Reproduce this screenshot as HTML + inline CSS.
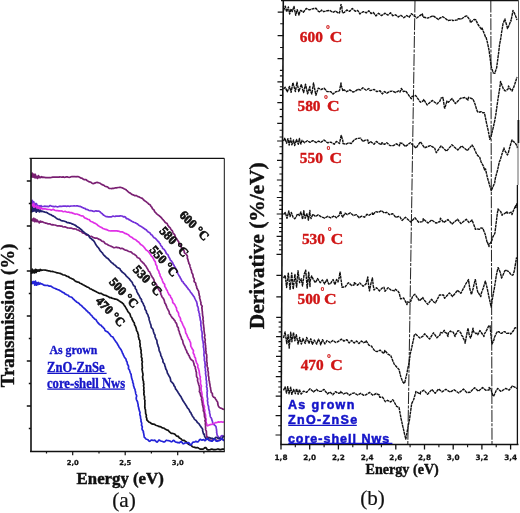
<!DOCTYPE html><html><head><meta charset="utf-8"><style>html,body{margin:0;padding:0;background:#fff;}svg{display:block;}</style></head><body>
<svg width="520" height="513" viewBox="0 0 520 513">
<rect width="520" height="513" fill="#fff"/>
<path d="M31.5 177.7L32.2 173.2L33 177.1L33.8 174.1L34.5 177.6L35.3 174.3L36 178L36.8 176.3L37.6 178.4L38.5 175.5L39.2 177.6L39.9 176.8L40.7 177.7L41.5 176.7L42.3 177.3L43.1 177.2L43.9 177.3L44.7 177.4L45.5 177.6L46.3 177.7L47.1 177.7L47.9 177.7L48.7 177.5L49.5 177.6L50.3 177.7L51.1 177.5L51.9 177.3L52.7 177.2L53.5 177.2L54.3 177.2L55.1 177.1L55.9 177.1L56.7 177.2L57.5 177.2L58.3 177.2L59.1 177.1L59.9 176.9L60.7 177L61.5 177.2L62.3 177.1L63.1 176.9L63.9 177.1L64.8 177.3L65.6 177.1L66.4 176.9L67.2 176.8L68 177.1L68.8 177.3L69.6 177.3L70.4 177.1L71.2 176.7L72 176.5L72.8 176.6L73.6 176.6L74.3 176.5L75.1 176.6L75.9 176.8L76.7 176.7L77.5 176.6L78.3 176.7L79.1 177L79.8 177.3L80.5 177.9L81.3 178.1L82.1 178.3L82.8 178.8L83.4 179.3L84.2 179.6L85.1 179.6L86 179.5L86.6 180.1L87.2 180.7L87.9 181.1L88.7 181.5L89.4 181.9L90.3 182L91 182.3L91.7 182.9L92.4 183.3L93.1 183.6L93.9 183.4L94.7 183.1L95.4 182.9L96.2 182.5L97 182.4L97.9 182.6L98.6 182.8L99.3 183L100 183.2L100.6 183.7L101.3 184.1L102 184.6L102.9 184.9L103.7 185.2L104.3 185.7L104.9 186.2L105.7 186.5L106.6 186.7L107.4 186.9L108.1 187.4L108.7 188.1L109.4 188.5L110.2 188.5L110.9 188.5L111.7 188.6L112.4 188.4L113.2 188.4L114 188.3L114.8 188L115.6 187.9L116.5 187.8L117.3 187.7L118.1 187.5L118.9 187.5L119.7 187.3L120.4 187.3L121.1 187.5L121.8 187.7L122.4 187.9L123 188.2L123.7 188.6L124.4 189L125.2 189.3L126 189.7L126.6 190.3L127.3 190.9L127.9 191.5L128.5 192.1L129.2 192.6L129.9 192.9L130.6 193.3L131.2 193.8L131.9 194.4L132.6 194.7L133.4 194.9L134.1 195.3L134.8 195.7L135.7 195.6L136.6 195.6L137.2 196.1L137.9 196.6L138.7 196.8L139.4 197.1L140.1 197.5L140.8 197.8L141.6 198.1L142.3 198.4L142.9 199L143.4 199.6L144 200.3L144.6 200.7L145.3 201.1L146 201.6L146.6 202.1L147.2 202.6L147.9 203.1L148.4 203.7L149 204.3L149.8 204.6L150.4 205.1L150.7 205.9L151.2 206.6L151.8 207.1L152.1 207.9L152.4 208.7L153 209.2L153.7 209.7L154.2 210.3L154.4 211.2L154.8 211.9L155.4 212.4L156 213L156.5 213.6L157.1 214.2L157.7 214.7L158.4 215.1L159.1 215.6L159.6 216.2L160.3 216.6L160.8 217.2L161.4 217.8L161.9 218.4L162.4 219.1L163 219.6L163.5 220.2L164 220.8L164.5 221.5L164.9 222.1L165.5 222.7L166.3 223.1L167.1 223.5L167.4 224.2L167.7 225.1L168.2 225.7L168.6 226.4L169.1 227L169.8 227.5L170.4 228.1L170.7 228.8L171.1 229.5L171.6 230.1L172.2 230.7L172.6 231.4L172.8 232.2L173.1 233L173.7 233.6L174.2 234.2L174.7 234.8L175 235.6L175.1 236.4L175.4 237.2L175.8 237.9L176.4 238.4L176.9 239.1L177.3 239.8L177.7 240.5L178.2 241.1L178.7 241.7L178.9 242.6L178.9 243.4L179.7 244L180.5 244.4L180.7 245.2L180.9 246L181.2 246.8L181.4 247.5L181.8 248.2L182.5 248.8L183 249.4L183.5 250.1L184 250.7L184.3 251.5L184.3 252.4L184.7 253.1L185.5 253.6L186.1 254.1L186.5 254.8L187 255.5L187.4 256.2L187.4 257.1L187.3 258L187.5 258.7L187.9 259.5L188.1 260.3L188.2 261.1L188.5 261.8L188.8 262.6L188.8 263.4L189.3 264.1L189.8 264.7L189.9 265.6L190 266.4L190.2 267.1L190.6 267.9L190.7 268.7L190.9 269.4L191.3 270.2L191.6 270.9L191.6 271.7L191.7 272.5L192.1 273.2L192.6 273.9L192.9 274.7L193 275.5L193.1 276.3L193.2 277.1L193.6 277.8L194 278.5L194.3 279.3L194.3 280.1L194 281L194.4 281.8L195.1 282.4L195.6 283.1L195.8 283.8L195.8 284.7L196.1 285.4L196.5 286.1L196.7 286.9L196.7 287.8L197 288.5L197.5 289.2L197.8 289.9L198.3 290.6L198.7 291.3L198.7 292.2L198.8 293L199.1 293.7L199.1 294.5L199.2 295.3L199.6 296.1L199.8 296.8L199.6 297.7L199.8 298.5L200.1 299.2L200.3 300L200.4 300.8L200.7 301.6L201 302.3L200.9 303.2L200.9 304L201.1 304.8L201.7 305.5L202.2 306.2L202 307L201.8 307.9L202 308.6L202.1 309.4L202.1 310.2L202.2 311L202.4 311.8L202.4 312.6L202.4 313.4L202.6 314.2L202.5 315L202.7 315.8L202.9 316.6L203.1 317.4L203.1 318.2L202.9 319L203 319.8L203.3 320.6L203.4 321.4L203.2 322.2L203.2 323L203.3 323.8L203.5 324.6L203.6 325.4L203.7 326.2L203.7 327L203.9 327.8L204 328.5L204 329.4L204 330.2L204.1 331L204.2 331.7L204.3 332.5L204.4 333.3L204.5 334.1L204.8 334.9L204.9 335.7L204.6 336.5L204.4 337.3L204.7 338.1L205 338.9L205.3 339.7L205.2 340.5L205 341.3L204.9 342.1L205.2 342.9L205.4 343.7L205.3 344.5L205.5 345.3L205.7 346.1L205.5 346.9L205.7 347.7L205.9 348.5L205.8 349.3L205.7 350.1L205.9 350.9L206.1 351.7L205.9 352.5L206 353.3L206.4 354L206.7 354.8L206.7 355.6L206.7 356.4L206.8 357.2L206.8 358L206.6 358.8L206.7 359.6L206.8 360.4L206.7 361.2L206.8 362L207.1 362.8L207.2 363.6L207 364.4L207 365.2L207.1 366L207.3 366.8L207.7 367.6L208 368.3L207.9 369.2L207.8 370L208 370.8L208.2 371.5L208.3 372.3L208.4 373.1L208.4 373.9L208.3 374.7L208.3 375.6L208.6 376.3L208.8 377.1L208.9 377.9L208.9 378.7L208.9 379.5L209 380.3L209.4 381.1L209.5 381.9L209.5 382.7L209.7 383.4L209.9 384.2L210 385L210 385.9L210.2 386.7L210.5 387.5L210.6 388.3L210.6 389.1L210.8 389.9L211 390.7L211.1 391.5L211.2 392.3L211.8 392.9L212.4 393.5L212.4 394.3L212.4 395.1L212.7 395.8L213.1 396.5L213.6 397.1L214.5 397.5L215.1 398L215.5 398.8L215.9 399.5L216.4 400.1L216.6 400.8L217.2 401.5L217.7 402.2L217.7 403.1L217.8 404L218 404.8L218.2 405.6L218.6 406.3L218.9 406.9L219.4 407.4L220.1 407.8L220.8 408.1L221.7 408.4L222.4 408.9L223.1 409.2L223.9 409.4L224 409.6" fill="none" stroke="#7a1f72" stroke-width="1.7" stroke-linejoin="round"/>
<path d="M31.4 203.7L32.1 200.4L32.9 204.4L33.6 201.5L34.2 205.4L34.9 203.4L35.7 206.3L36.4 203.5L37.1 206.2L37.9 205.5L38.6 207.5L39.4 205.8L40.2 206.9L40.9 205.6L41.7 206.6L42.5 206.5L43.3 206.5L44.1 206.3L44.9 206.2L45.7 206.3L46.6 206.3L47.4 206.4L48.2 206.6L49 206.4L49.8 205.7L50.6 205.7L51.4 206.1L52.2 206.3L53 206.4L53.8 206.6L54.6 206.7L55.4 206.4L56.2 206.5L57 206.8L57.8 206.8L58.6 206.6L59.4 206.3L60.2 206.2L61 206.4L61.8 206.4L62.6 206.2L63.4 206.2L64.2 206.2L65 206.2L65.8 206.2L66.6 206.3L67.4 206.2L68.2 206.1L69 206.3L69.8 206.3L70.6 206.1L71.4 206L72.2 206L73 206L73.8 205.9L74.6 205.9L75.4 206L76.2 205.9L77 205.7L77.7 205.9L78.5 206.2L79.3 206.4L80.1 206.4L80.9 206.7L81.6 207.1L82.3 207.4L83.1 207.9L83.8 208.1L84.7 208.3L85.4 208.8L86 209.3L86.9 209.4L87.7 209.7L88.4 210.1L89.1 210.5L89.9 210.7L90.7 210.7L91.5 210.7L92.3 210.9L93 211.2L93.8 211.4L94.6 211.3L95.4 210.9L96.2 210.9L97 211.2L97.8 211.1L98.5 211L99.2 211.3L99.9 211.7L100.5 212.3L101.1 212.9L101.8 213.4L102.5 214L103.1 214.7L103.8 215.2L104.6 215.6L105.2 216.1L105.8 216.5L106.5 216.6L107.2 216.7L108 216.8L108.7 216.8L109.5 216.8L110.3 216.9L111.1 216.9L111.9 216.6L112.7 216.2L113.5 216.2L114.4 216.5L115.2 216.4L116 216.1L116.9 216.1L117.7 216.2L118.5 216.2L119.3 216.1L120.1 215.9L120.8 215.9L121.6 216L122.3 216.1L123 216.6L123.7 216.9L124.7 216.7L125.5 217L125.9 217.9L126.5 218.6L127.4 218.7L128.2 219L128.9 219.6L129.6 219.9L130.3 220.3L131 220.7L131.7 221.2L132.4 221.5L133.1 221.9L133.8 222.2L134.6 222.5L135.3 222.8L136 223.2L136.7 223.6L137.5 223.9L138.1 224.5L138.6 225.1L139.3 225.5L140.1 225.9L140.7 226.3L141.5 226.6L142.1 227.1L142.7 227.6L143.4 228L144.1 228.4L144.7 229L145.4 229.4L146.1 229.7L146.7 230.3L147.2 231L147.7 231.6L148.4 232L149.2 232.4L149.8 232.8L150.3 233.5L150.7 234.2L151.4 234.7L152.1 235.1L152.5 235.8L153 236.5L153.5 237.1L154 237.7L154.8 238.1L155.5 238.5L156.1 239.1L156.6 239.7L157.1 240.3L157.6 240.9L158.2 241.5L158.8 242L159.2 242.7L159.7 243.3L160.3 243.9L160.5 244.7L160.8 245.5L161.4 246.1L162 246.6L162.4 247.3L162.5 248.2L163.1 248.8L164 249.2L164.4 249.8L164.9 250.5L165.4 251.1L165.7 251.9L166 252.6L166.3 253.4L166.9 254L167.7 254.4L168.1 255.1L168.4 255.8L168.6 256.6L169 257.4L169.5 258L169.9 258.6L170 259.5L170.4 260.2L171.2 260.7L171.7 261.3L172.1 262L172.6 262.7L172.9 263.4L173.1 264.2L173.7 264.8L174.1 265.5L174.4 266.2L174.9 266.9L175.3 267.6L175.6 268.3L176 269L176.4 269.7L176.7 270.5L177 271.2L177.3 272L177.6 272.7L177.9 273.5L178.2 274.2L178.6 274.9L179 275.6L179.4 276.3L179.9 276.9L180.2 277.7L180.5 278.4L181 279L181.4 279.7L181.6 280.5L182 281.2L182.7 281.7L183.3 282.2L183.5 283L184 283.7L184.6 284.2L185 284.9L185.6 285.5L186.2 286L186.6 286.8L187 287.4L187.6 288L188.1 288.6L188.4 289.4L189.1 289.9L189.7 290.5L190 291.2L190.4 291.9L190.9 292.6L191.5 293.2L191.9 293.9L192.4 294.5L192.9 295.2L193.3 295.9L193.9 296.5L194.3 297.1L194.6 297.9L194.9 298.6L195.3 299.2L195.6 300L195.9 300.7L196.4 301.3L196.7 302.1L196.8 302.9L197.1 303.7L197.2 304.5L197.2 305.3L197.4 306.1L197.9 306.8L198.1 307.6L198.3 308.4L198.4 309.2L198.2 310L198.6 310.8L198.9 311.5L198.9 312.4L199.2 313.1L199.6 313.9L199.4 314.7L199.4 315.5L199.8 316.3L199.9 317.1L200 317.8L200.2 318.6L200.2 319.4L200.3 320.2L200.7 321L200.9 321.8L200.9 322.6L200.9 323.4L200.8 324.2L200.8 325L200.9 325.8L201.1 326.6L201.3 327.4L201.5 328.2L201.3 329L201.3 329.8L201.6 330.6L201.9 331.3L202 332.1L202.1 332.9L202.2 333.7L202.2 334.5L202.1 335.3L202.1 336.1L202.2 336.9L202.3 337.7L202.4 338.5L202.5 339.3L202.6 340.1L202.9 340.9L203.1 341.7L203.1 342.5L203.2 343.3L203.4 344L203.5 344.8L203.4 345.7L203.3 346.5L203.4 347.3L203.7 348L203.8 348.8L203.8 349.6L203.9 350.4L204.1 351.2L204.1 352L204.1 352.8L204 353.6L203.9 354.5L203.9 355.3L204.1 356L204.3 356.8L204.5 357.6L204.4 358.4L204.4 359.2L204.3 360L204.5 360.8L204.9 361.6L205 362.4L204.9 363.2L205 364L205.2 364.8L205.2 365.6L205 366.4L205 367.2L205.2 368L205.5 368.8L205.5 369.6L205.3 370.4L205.6 371.2L205.8 371.9L205.6 372.8L205.5 373.6L205.7 374.4L205.8 375.2L206 375.9L206.1 376.7L206.2 377.5L206.2 378.3L206.1 379.1L206.2 379.9L206.5 380.7L206.6 381.5L206.5 382.3L206.4 383.1L206.6 383.9L206.9 384.7L206.8 385.5L206.5 386.3L206.6 387.1L207.1 387.9L207.1 388.7L207 389.5L207.3 390.3L207.4 391.1L207.1 391.9L207 392.7L207.2 393.5L207.2 394.3L207.1 395.1L207.1 395.9L207.2 396.7L207.3 397.5L207.6 398.3L207.7 399.1L207.5 399.9L207.4 400.7L207.6 401.5L207.8 402.3L207.7 403.1L207.8 403.9L208 404.7L208.2 405.4L208.5 406.2L208.7 407L208.6 407.8L208.7 408.6L208.9 409.4L209.1 410.2L209.4 410.9L209.6 411.7L209.5 412.6L209.6 413.4L210 414.1L210.1 414.9L210.1 415.7L210.3 416.5L210.6 417.2L211.2 417.9L211.6 418.6L211.7 419.5L211.9 420.2L212.3 420.9L212.5 421.7L212.6 422.5L212.9 423.3L213.5 423.8L213.9 424.5L214.6 425.1L215.2 425.6L215.7 426.2L216.1 426.9L216.1 427.6L216.3 428.4L216.5 429.1L216.5 430L216.7 431.3L216.7 432.3L216.6 432.6L216.7 432.7L216.9 433.4L217 434.6L217.3 435.5L218 436.3L218.4 437.1L219 437.7L219.6 438L220.3 437.4L221.1 436.2L221.9 435.6L222.9 436.1L224 436.7L224.1 436.8" fill="none" stroke="#7431d9" stroke-width="1.7" stroke-linejoin="round"/>
<path d="M31.5 207.2L32.3 204.4L33.1 206.5L33.8 203.6L34.3 207.9L35 206.1L35.9 207.7L36.6 206L37.4 208.9L38.2 206.5L38.9 208.7L39.7 207.3L40.5 209L41.3 207.8L42 208.9L42.8 208.8L43.6 208.9L44.4 208.9L45.2 208.9L46 209L46.8 209.3L47.6 209.4L48.4 209.5L49.2 209.5L50 209.5L50.8 209.9L51.6 210.1L52.4 209.6L53.3 209.4L54 209.7L54.8 210.2L55.5 210.5L56.3 210.6L57.1 210.7L57.9 210.7L58.7 210.8L59.5 210.9L60.3 211L61.1 210.9L61.9 211L62.7 211.5L63.5 211.7L64.3 211.5L65.1 211.4L65.9 211.7L66.7 212L67.5 212.2L68.3 212.2L69.1 212.2L69.8 212.6L70.6 212.7L71.5 212.6L72.2 212.9L72.9 213.3L73.7 213.4L74.4 213.8L75.2 214.1L76 214L76.8 214L77.6 214.2L78.3 214.6L79 214.8L79.8 215.1L80.4 215.5L81.2 215.8L82 215.9L82.9 216L83.5 216.4L84 217.2L84.6 217.8L85.3 218.2L86.1 218.4L86.9 218.7L87.6 219.2L88.3 219.5L89.2 219.7L89.8 220.3L90.3 221.1L91 221.5L91.8 221.7L92.6 222L93.3 222.4L93.9 222.9L94.6 223.2L95.4 223.4L96.1 223.9L96.8 224.3L97.4 225L98 225.5L98.7 225.9L99.4 226.4L100.1 226.8L100.9 227.2L101.6 227.6L102.3 228L102.9 228.5L103.7 228.7L104.4 229L105.1 229.3L105.8 229.4L106.6 229.6L107.3 229.9L108 230.3L108.7 230.6L109.5 230.8L110.3 231L111.1 230.8L111.9 230.8L112.8 230.9L113.6 230.8L114.4 230.8L115.2 230.9L116.1 230.8L116.9 230.8L117.7 231.1L118.5 231.2L119.2 231.3L120 231.7L120.7 231.9L121.5 231.8L122.3 231.9L123 232.2L123.7 232.6L124.4 233.1L125.1 233.4L125.9 233.6L126.7 233.9L127.4 234.3L128.2 234.7L128.8 235.2L129.4 235.8L130 236.4L130.6 236.8L131.4 237.1L132.1 237.5L132.7 238.1L133.2 238.6L134 239L134.7 239.3L135.5 239.6L136.2 240.1L136.7 240.7L137.3 241.3L138 241.7L138.7 242.1L139.2 242.7L139.7 243.3L140.2 244L140.8 244.5L141.5 244.9L142.2 245.4L142.8 245.9L143.4 246.5L143.9 247L144.4 247.7L145 248.3L145.4 249L145.9 249.6L146.4 250.2L147.2 250.6L147.9 251.1L148.4 251.7L148.9 252.3L149.5 252.9L149.8 253.6L150.3 254.3L150.8 254.9L151.2 255.7L151.6 256.3L152.3 256.8L152.8 257.4L153.1 258.2L153.5 258.8L153.9 259.5L154.1 260.3L154.6 260.9L155.2 261.6L155.4 262.3L155.6 263.1L155.6 264L155.9 264.7L156.5 265.4L156.9 266.1L157 266.9L157.1 267.7L157.2 268.6L157.6 269.3L158 270L158.5 270.7L158.9 271.3L159 272.2L159.1 273L159.6 273.7L160 274.4L160 275.2L160.1 276L160.7 276.7L161.1 277.4L161.4 278.1L161.8 278.8L162.1 279.5L162.3 280.3L162.6 281.1L162.9 281.8L163.1 282.6L163.6 283.3L164.3 283.8L164.7 284.5L164.7 285.4L164.7 286.2L165.1 286.9L165.6 287.6L166 288.3L166.2 289.1L166.6 289.8L167.1 290.4L167.5 291.1L167.7 292L168 292.7L168.5 293.3L168.7 294.1L169.1 294.8L169.9 295.3L170.4 295.9L170.6 296.8L170.8 297.5L171.5 298.1L171.9 298.8L172.1 299.6L172.5 300.3L172.7 301.1L172.6 302L172.9 302.8L173.6 303.3L174.2 303.9L174.7 304.6L175.2 305.2L175.4 306L175.7 306.7L176.2 307.4L176.5 308.1L176.5 309L176.7 309.8L176.9 310.5L177.3 311.3L177.8 311.9L178.3 312.6L178.6 313.3L178.6 314.2L178.7 315L179 315.8L179.4 316.5L179.8 317.1L180.2 317.9L180.5 318.6L180.6 319.4L180.5 320.3L180.9 321L181.5 321.6L181.9 322.3L182.2 323.1L182.5 323.8L182.8 324.6L183.1 325.3L183.5 326L183.8 326.7L184.1 327.5L184.6 328.2L184.9 328.9L185.2 329.7L185.3 330.4L185.5 331.2L185.6 332.1L185.7 332.9L186.1 333.6L186.6 334.3L186.9 335L187.2 335.7L187.4 336.5L187.8 337.2L188.3 337.9L188.4 338.7L188.8 339.4L189.5 340L189.7 340.8L189.9 341.5L190.4 342.2L190.6 343L190.7 343.8L190.7 344.7L190.7 345.5L190.9 346.3L191.3 347L191.7 347.7L192 348.5L192.4 349.2L193 349.8L193.4 350.5L193.4 351.4L193.2 352.3L193.3 353.1L193.6 353.8L194.1 354.5L194.4 355.2L194.4 356.1L194.6 356.9L195.1 357.5L195.5 358.2L195.6 359L195.6 359.9L195.9 360.6L196.2 361.4L196.4 362.2L196.6 362.9L197.1 363.6L197.5 364.3L197.8 365.1L197.9 365.9L197.7 366.8L197.8 367.6L198.4 368.3L198.6 369L198.7 369.8L199 370.6L199.2 371.3L199.3 372.1L199.3 373L199.5 373.7L199.6 374.5L199.7 375.3L200 376.1L200.4 376.8L200.3 377.6L200.1 378.5L200.2 379.3L200.4 380L200.6 380.8L200.6 381.6L200.5 382.5L200.5 383.3L200.5 384.1L200.9 384.8L201.3 385.6L201.4 386.4L201.1 387.2L201.1 388L201.2 388.8L201.2 389.7L201.1 390.5L201.4 391.2L201.7 392L201.8 392.8L201.9 393.6L202.1 394.4L202 395.2L201.9 396L202.2 396.8L202.5 397.6L202.7 398.3L203 399.1L203 399.9L203.1 400.7L203.2 401.5L203.3 402.3L203.3 403.1L203.4 403.9L203.7 404.7L203.9 405.4L204.3 406.2L204.5 407L204.3 407.8L204.2 408.6L204.4 409.4L204.8 410.2L204.8 411L204.7 411.8L204.7 412.6L204.9 413.4L205.2 414.1L205.5 414.9L205.6 415.9L205.6 416.9L205.7 417.9L206 418.9L206.2 419.9L206 421L205.9 422L206.2 422.9L206.6 423.6L206.8 424.3L206.9 425L207.1 425.5L207.5 425.8L208 425.6L208.6 425.2L209.4 424.9L210.3 424.6L211.2 424.4L212 424.5L212.8 424L213.4 423.5L214.2 423.3L214.9 423L215.6 422.6L216.3 422.6L217.1 422.5L217.9 422.1L218.6 421.9L219.5 422.1L220.3 422L221.1 421.7L221.9 422L222.7 422.1L223.6 422L224 422" fill="none" stroke="#e030e6" stroke-width="1.7" stroke-linejoin="round"/>
<path d="M31.5 221L32.3 219.1L33.1 221L33.9 218.2L34.7 221.7L35.5 219.1L36.3 221.6L37.1 220L37.8 221.7L38.5 221.3L39.3 222.9L40.2 221.1L41 222.1L41.8 221.5L42.6 221.9L43.3 222.2L44 222.6L44.8 222.8L45.6 223.1L46.4 223.2L47.1 223.4L47.8 223.8L48.7 223.9L49.5 223.8L50.3 224L51 224.5L51.7 224.8L52.6 224.7L53.4 224.8L54.1 225L55 225L55.7 225.2L56.5 225.6L57.2 225.8L58 225.9L58.9 225.8L59.7 225.8L60.4 226.1L61.2 226.2L62.1 226.2L62.8 226.7L63.6 227L64.4 226.9L65.2 226.9L66 227.2L66.7 227.5L67.5 227.9L68.3 228L69.1 228L69.9 228.2L70.7 228.1L71.5 228.2L72.3 228.5L73 228.8L73.8 228.8L74.6 228.9L75.4 229L76.2 229.1L76.8 229.7L77.6 230L78.4 230.1L79.1 230.5L79.7 231L80.5 231.3L81.3 231.5L82 232L82.4 232.8L83.2 233.1L84.1 233.2L84.7 233.6L85.4 234.2L86 234.7L86.7 235.1L87.5 235.3L88.3 235.5L89 235.8L89.7 236.3L90.5 236.5L91.3 236.4L92.1 236.7L92.8 237.3L93.5 237.6L94.3 237.8L95 238.1L95.8 238.1L96.7 238.2L97.5 238.3L98.1 238.8L98.8 239.3L99.6 239.4L100.3 239.8L101 240.3L101.6 240.9L102.3 241.3L103.2 241.4L103.9 241.8L104.4 242.6L104.9 243.3L105.6 243.7L106.4 244L107.1 244.3L107.8 244.7L108.5 245.2L109.2 245.5L109.9 245.8L110.6 246L111.3 246.4L112.1 246.7L112.8 247.1L113.5 247.6L114.3 247.7L115.1 247.5L116 247.2L116.8 247.3L117.6 247.7L118.4 247.7L119.2 247.8L119.9 248.3L120.7 248.6L121.6 248.4L122.4 248.4L123.1 248.8L123.8 249.2L124.5 249.7L125.3 250.1L126.1 250.2L126.9 250.4L127.6 250.8L128.3 251.2L129 251.5L129.7 251.7L130.5 251.8L131.3 252.1L131.8 252.6L132.3 253.3L133 253.7L133.8 254L134.5 254.4L135.1 255L135.8 255.4L136.4 255.9L136.8 256.7L137.2 257.4L138.1 257.8L138.9 258.1L139.6 258.6L140.1 259.2L140.4 260.1L140.9 260.8L141.5 261.3L142.1 261.9L142.6 262.5L143.2 263L143.9 263.5L144.3 264.2L144.7 264.8L145.3 265.4L145.8 266L146.2 266.6L146.6 267.3L146.9 268L147.4 268.6L147.8 269.3L148.1 270L148.4 270.8L149 271.4L149.7 271.9L150 272.6L150.4 273.3L150.7 274L151 274.8L151.3 275.5L151.7 276.2L152.1 276.9L152.5 277.6L153.1 278.2L153.5 278.9L153.8 279.7L154.1 280.4L154.3 281.3L154.5 282.1L155 282.7L155.6 283.3L156.2 284L156.4 284.7L156.8 285.5L157.2 286.2L157.5 286.9L157.8 287.7L158.1 288.5L158.5 289.2L158.9 289.9L159.4 290.5L159.9 291.2L160.3 291.9L160.6 292.6L160.7 293.5L160.9 294.3L161.3 295L161.6 295.7L161.8 296.5L162.3 297.2L162.8 297.8L163.3 298.5L163.7 299.2L164 299.9L164.3 300.7L164.5 301.5L164.6 302.3L164.9 303.1L165.4 303.7L165.8 304.5L166 305.2L166.4 306L166.7 306.7L166.9 307.5L167.2 308.2L167.6 308.9L168 309.7L168.4 310.3L168.8 311L169.1 311.8L169.3 312.6L169.3 313.4L169.7 314.1L170.4 314.6L170.7 315.4L171.1 316.1L171.5 316.7L171.9 317.4L172.4 318L173.1 318.4L173.6 319.1L174 319.8L174.6 320.4L175.1 321L175.3 321.8L175.6 322.5L176.2 323L176.6 323.7L176.8 324.5L177 325.3L177.1 326.1L177.5 326.8L178.1 327.4L178.4 328.1L178.4 329L178.4 329.9L178.8 330.6L179.2 331.3L179.4 332.1L179.5 332.9L179.7 333.7L180.1 334.4L180.4 335.2L180.6 336L181 336.7L181.3 337.5L181.4 338.3L181.7 339.1L182.2 339.7L182.6 340.4L182.8 341.2L182.9 342L183 342.8L183.3 343.6L183.6 344.4L184 345.1L184.4 345.8L184.6 346.5L185 347.3L185.3 348L185.5 348.8L185.8 349.6L186.3 350.3L186.7 351L186.8 351.8L187 352.6L187.6 353.2L188.1 353.8L188.3 354.6L188.7 355.3L189.3 355.9L189.5 356.7L189.7 357.5L190.2 358.1L190.5 358.8L191 359.5L191.7 359.9L192.4 360.5L193.1 361L193.4 361.8L193.5 362.5L193.8 363.2L193.9 364L194.1 364.8L194.3 365.6L194.8 366.3L195.3 367L195.3 367.8L195.3 368.6L195.7 369.4L195.9 370.2L195.9 371L196.1 371.7L196.5 372.5L196.4 373.3L196.4 374.1L196.5 374.9L196.5 375.8L196.6 376.6L197 377.3L197.5 378L197.7 378.8L197.6 379.6L197.5 380.4L197.7 381.2L198 382L198.2 382.8L198.4 383.5L198.6 384.3L198.9 385.1L199.2 385.8L199.4 386.6L199.4 387.4L199.6 388.2L199.6 389L199.6 389.8L199.5 390.7L199.3 391.5L199.7 392.2L200.2 393L200.3 393.8L200.5 394.5L200.7 395.3L200.8 396.1L201.3 396.8L201.7 397.6L201.6 398.4L201.4 399.3L201.6 400L201.9 400.8L202.1 401.6L202.1 402.4L202.4 403.1L202.4 404L202.4 404.8L202.7 405.5L202.9 406.3L203 407.1L203.2 407.9L203.4 408.7L203.4 409.5L203.3 410.3L203.4 411.1L203.9 411.8L204.2 412.6L204.2 413.4L204.3 414.2L204.4 415L204.4 415.8L204.5 416.6L204.7 417.4L205.1 418.1L205.4 418.9L205.2 419.8L204.9 420.6L205.2 421.4L205.5 422.2L205.5 423L205.3 423.8L205.4 424.6L205.6 425.4L205.5 426.2L205.5 427.1L205.6 427.9L205.7 428.8L205.6 429.6L205.8 430.1L206.1 430.6L206.4 431.4L206.4 432.4L206.4 433.1L206.5 434L206.6 435.3L206.7 436.7L206.9 437.2L207.3 436.9L208 437.2L208.6 438.2L208.8 439.2L209.2 439.9L209.9 440L210.6 440.1L211.4 440.4L212.3 440.4L213.2 439.8L214.1 439.1L215 439.1L215.8 439.7L216.6 440.2L217.4 440.5L218.2 440.5L219 440.4L219.8 440.2L220.6 439.7L221.4 439L222.2 438.8L223 439.4L223.8 439.9L224 439.9" fill="none" stroke="#7d2277" stroke-width="1.7" stroke-linejoin="round"/>
<path d="M31.5 212.7L32.3 207.4L33.1 211.2L33.9 208.5L34.7 210.9L35.5 208.4L36.3 212.2L37.1 209.6L37.9 211.1L38.7 209.8L39.4 211.9L40.2 210.3L41 211.5L41.8 211L42.6 211.4L43.4 211.7L44.1 211.8L44.9 212.1L45.6 212.3L46.4 212.4L47.2 212.7L47.9 213.2L48.5 213.6L49.2 214.1L49.9 214.5L50.7 214.6L51.4 215L52.1 215.5L52.8 215.9L53.6 216.1L54.2 216.6L54.9 217.1L55.6 217.5L56.2 218.1L56.8 218.6L57.5 219L58.3 219.3L59.2 219.4L59.9 219.6L60.6 220.1L61.2 220.6L62 220.8L62.9 220.9L63.7 221L64.4 221.2L65.2 221.5L66 221.8L66.7 222.3L67.4 222.7L68.3 222.7L69.1 222.8L69.8 223.1L70.6 223.2L71.4 223.5L72.1 223.9L72.8 224.2L73.6 224.4L74.2 224.8L74.9 225.1L75.6 225.5L76.2 226L76.8 226.5L77.5 226.9L78.2 227.3L78.9 227.7L79.5 228.2L80.2 228.7L80.7 229.3L81.4 229.7L82 230.3L82.4 231.1L83.1 231.4L83.8 231.9L84.3 232.6L84.9 233.1L85.6 233.5L86.3 233.9L87 234.3L87.8 234.7L88.4 235.1L88.9 235.9L89.3 236.6L89.6 237.5L90.1 238L90.9 238.4L91.5 238.9L92 239.5L92.7 240L93.4 240.5L93.9 241.1L94.3 241.7L94.7 242.4L95.1 243.1L95.5 243.9L95.8 244.6L96.3 245.3L96.8 245.9L97.2 246.6L97.8 247.2L98.4 247.7L98.9 248.4L99.3 249.1L99.6 249.8L100.1 250.5L100.6 251.1L101.2 251.7L101.7 252.3L102.3 252.8L102.8 253.5L103.1 254.2L103.6 254.8L104.2 255.4L104.7 256L105.4 256.5L105.9 257L106.4 257.7L107.1 258.1L107.8 258.5L108.4 259L109 259.6L109.4 260.3L110 260.8L110.6 261.4L111 262.2L111.6 262.7L112.4 263L113 263.5L113.5 264.2L114.1 264.7L114.9 265.1L115.5 265.6L116 266.2L116.6 266.8L117.2 267.3L117.9 267.7L118.6 268.1L119.4 268.4L120 268.9L120.4 269.8L120.7 270.5L121.4 271L121.8 271.7L122.4 272.3L123.1 272.7L123.7 273.2L124.3 273.7L125 274.2L125.5 274.8L125.9 275.5L126.4 276.2L127 276.7L127.7 277.2L128.2 277.8L128.8 278.3L129.4 278.9L129.8 279.6L130.3 280.2L130.8 280.8L131.3 281.4L131.9 282L132.3 282.6L132.6 283.4L132.9 284.1L133.3 284.8L133.6 285.6L134.3 286.1L135.1 286.5L135.2 287.4L135.2 288.3L135.7 289L136.3 289.6L136.6 290.3L136.7 291.2L137 292L137.4 292.6L137.8 293.4L138.1 294.1L138.6 294.8L139.2 295.4L139.4 296.1L139.7 296.9L140.1 297.6L140.4 298.3L141 298.9L141.5 299.5L141.5 300.5L141.6 301.3L142.2 301.9L142.6 302.6L143 303.3L143.4 304L143.6 304.8L143.9 305.5L144.3 306.2L144.7 306.9L144.9 307.7L144.9 308.6L145.1 309.4L145.6 310L146.1 310.7L146.4 311.4L146.4 312.2L146.7 313L147.2 313.7L147.6 314.4L148 315.1L148.2 315.9L148.3 316.7L148.8 317.3L149.1 318.1L149 319L149.2 319.8L149.4 320.5L149.7 321.3L149.9 322L150.1 322.8L150.4 323.6L150.7 324.3L150.9 325.1L151.1 325.9L151.1 326.7L151.3 327.5L151.9 328.1L152.5 328.8L153 329.5L153.2 330.2L153.3 331L153.5 331.8L153.8 332.6L154 333.3L154.4 334.1L154.9 334.7L155.1 335.5L155 336.4L155.2 337.1L155.6 337.9L155.8 338.6L156.2 339.3L156.7 340L156.9 340.8L157 341.6L157 342.4L157.2 343.2L157.4 344L157.8 344.7L158 345.5L158.1 346.3L158.5 347L158.8 347.7L158.9 348.5L159 349.4L159.1 350.2L159.3 350.9L159.7 351.7L160 352.4L160.4 353.1L160.6 353.9L160.7 354.7L160.8 355.5L161.2 356.2L161.7 356.9L161.9 357.7L162.1 358.4L162.5 359.2L162.9 359.9L162.9 360.7L162.9 361.6L163.2 362.3L163.7 363L164.3 363.6L164.6 364.4L164.8 365.2L164.9 366L165.2 366.7L165.5 367.4L165.6 368.3L165.8 369L166.3 369.7L166.7 370.4L167 371.2L167.2 371.9L167.3 372.8L167.6 373.5L168.1 374.1L168.5 374.9L168.7 375.6L169.3 376.3L169.7 377L170 377.7L170.3 378.4L170.5 379.2L170.6 380.1L170.7 380.9L171.2 381.6L171.8 382.2L172.4 382.8L172.9 383.4L173.4 384L173.8 384.7L173.9 385.6L174.4 386.2L175 386.8L175.2 387.6L175.4 388.4L175.7 389.1L176.3 389.7L176.7 390.4L177.2 391L177.7 391.7L178 392.4L178.5 393.1L179 393.7L179.3 394.5L179.8 395.1L180.2 395.8L180.7 396.4L181.2 397.1L181.5 397.8L181.8 398.6L182.3 399.2L182.6 399.9L182.9 400.7L183.5 401.3L183.9 402L184.3 402.7L184.8 403.3L185.2 404L185.6 404.7L186 405.4L186.5 406L186.9 406.7L187.2 407.5L187.7 408.1L188.3 408.7L188.8 409.3L189.2 410L189.5 410.7L189.8 411.5L190.2 412.2L190.9 412.7L191.2 413.5L191.4 414.3L191.9 414.9L192.2 415.6L192.6 416.4L193.1 417L193.7 417.6L194 418.3L194.4 419.1L194.9 419.6L195.6 420.1L196.2 420.7L196.7 421.3L197.1 422.1L197.6 422.7L198.2 423.2L198.9 423.7L199.4 424.3L199.7 425.1L200.2 425.8L200.7 426.4L201.1 427.1L201.6 427.7L202.1 428.3L202.5 429L202.7 429.6L202.6 430.5L203 432L203.4 433.6L203.8 434.1L204.3 434.2L204.4 435.1L204.5 436.1L204.8 436.6L205.1 437.2L205.5 437.7L205.7 438.4L206.1 439.1L206.6 439.1L207.3 439L208 438.4L208.8 437.7L209.7 437.7L210.6 438.2L211.5 438.3L212.4 438.3L213.4 438.9L214.2 439L215 438.2L215.8 437.3L216.6 437.3L217.5 438L218.3 438.5L219 438.3L219.8 438.2L220.6 438.5L221.4 438.6L222.2 438.2L223 437L223.7 436.1L223.9 435.9" fill="none" stroke="#20206e" stroke-width="1.7" stroke-linejoin="round"/>
<path d="M31.4 273.9L32.2 269.2L33.1 272.8L33.9 270.1L34.7 272.9L35.5 269.3L36.2 272.4L37 269.7L37.9 271.2L38.7 270L39.4 271L40.2 269.4L41 270.4L41.8 270.1L42.6 270.2L43.4 270L44.2 270L45 270.1L45.8 270.2L46.6 270.4L47.4 270.6L48.2 270.8L49 270.9L49.8 271L50.5 271.4L51.3 271.5L52.2 271.4L53 271.6L53.7 271.8L54.5 272L55.3 272.2L56.1 272.5L56.8 272.8L57.6 272.9L58.4 273L59.2 273.2L60 273.4L60.7 273.6L61.4 274L62.1 274.3L62.8 274.8L63.6 275L64.4 275L65.2 275.3L65.9 275.7L66.6 276.1L67.3 276.4L68.2 276.5L68.8 277L69.5 277.6L70.2 278L70.9 278.2L71.7 278.6L72.4 278.9L73.2 279.2L73.8 279.7L74.4 280.3L75 280.9L75.7 281.4L76.5 281.6L77.2 281.9L78 282.1L78.8 282.3L79.5 282.8L80.1 283.3L80.9 283.5L81.6 283.9L82.3 284.3L83 284.7L83.7 285L84.4 285.4L85.1 285.9L85.8 286.2L86.5 286.6L87.2 287.1L88 287.3L88.7 287.5L89.3 288.1L89.9 288.7L90.6 289L91.5 289.2L92.1 289.6L92.8 290.1L93.6 290.4L94.3 290.7L94.9 291.2L95.7 291.4L96.4 291.8L97.1 292.2L97.8 292.5L98.5 292.9L99.2 293.3L100.1 293.4L100.9 293.4L101.7 293.6L102.3 294.1L103 294.6L103.8 294.9L104.5 295.1L105.3 295.3L106.1 295.6L106.8 295.9L107.5 296.3L108.3 296.6L108.9 297L109.6 297.6L110.5 297.6L111.3 297.7L112 298.2L112.8 298.4L113.6 298.5L114.4 298.9L115.2 299.1L116 299.2L116.8 299.4L117.5 299.7L118.2 300.2L118.8 300.7L119.5 301L120 301.5L120.6 301.9L121.3 302.2L122 302.7L122.5 303.2L123.2 303.7L123.7 304.3L124.1 305.1L124.5 305.8L125.1 306.4L125.5 307.2L125.9 307.9L126.3 308.6L126.7 309.3L127.2 310L127.5 310.7L127.8 311.5L128.4 312.1L128.9 312.7L129.4 313.3L129.9 313.9L130.2 314.7L130.4 315.5L130.6 316.3L131 317L131.6 317.6L132 318.3L132 319.2L132.4 319.9L132.9 320.5L133.1 321.3L133.6 322L134.2 322.6L134.4 323.4L134.4 324.2L134.6 325L135.1 325.7L135.5 326.4L135.7 327.2L136 327.9L136.3 328.7L136.4 329.5L136.5 330.3L136.8 331L137.4 331.7L137.7 332.5L137.8 333.3L138.1 334L138.4 334.8L138.5 335.6L138.3 336.4L138.5 337.2L138.9 337.9L138.9 338.7L139.1 339.5L139.7 340.2L139.9 341L139.8 341.8L139.8 342.6L140 343.4L140.2 344.2L140.2 345L139.9 345.9L140.1 346.7L140.6 347.4L140.7 348.2L140.6 349L141 349.8L141.2 350.5L141.1 351.3L141 352.2L141 353L141.3 353.7L141.5 354.5L141.5 355.3L141.3 356.1L141.3 356.9L141.6 357.7L142.1 358.5L142 359.3L141.7 360.1L142.1 360.9L142.4 361.7L142.3 362.5L142 363.3L142 364.1L142.2 364.9L142.2 365.7L142.2 366.5L142.4 367.3L142.4 368.1L142 368.9L142 369.7L142.3 370.5L142.4 371.3L142.5 372.1L142.7 372.9L142.9 373.7L143 374.5L143 375.3L142.7 376.1L142.5 376.9L142.7 377.7L142.8 378.5L142.8 379.3L143 380.1L143.3 380.9L143.6 381.6L143.5 382.5L143.5 383.3L143.9 384L143.8 384.8L143.5 385.7L143.7 386.5L143.9 387.2L143.9 388L143.8 388.8L143.7 389.7L143.8 390.5L144 391.2L144.1 392L144 392.8L143.8 393.7L143.9 394.5L144.1 395.2L144.4 396L144.6 396.8L144.6 397.6L144.4 398.4L144.5 399.2L144.8 400L145 400.8L144.8 401.6L144.8 402.4L144.9 403.2L144.9 404L144.9 404.8L144.8 405.6L144.8 406.4L144.8 407.2L144.9 408L145.1 408.8L145.4 409.6L145.5 410.4L145.5 411.3L145.6 412.1L145.6 413L145.7 413.8L146.2 414.6L146.4 415.4L146.2 416.3L146.2 417.1L146.6 417.8L146.8 418.5L146.7 419.3L146.9 420L147.5 420.5L148 421.1L148.6 421.7L149.3 422.2L150.1 422.5L150.7 423L151.3 423.5L152 423.9L152.8 424.1L153.6 424.2L154.4 424.3L155.1 424.8L155.8 425.2L156.6 425.5L157.3 425.7L158.1 426L158.8 426.4L159.6 426.6L160.4 426.7L161.1 427L161.8 427.5L162.5 427.9L163.4 428L164.1 428.3L164.8 428.8L165.5 429.2L166.1 429.6L166.8 430L167.6 430.1L168.3 430.4L168.8 431.1L169.5 431.8L170.2 432.4L170.7 432.9L171.4 433.3L172.2 433.4L173.1 433.5L173.8 433.7L174.5 434L175.2 434.5L175.8 435.2L176.5 436L177.2 436.3L178 436.2L178.6 436.7L179 437.6L179.6 438.1L180.4 438.3L181 438.8L181.6 439.6L182.4 440.2L183.2 440.4L183.9 440.4L184.6 440.6L185.2 441.1L185.9 441.6L186.5 442.2L187.1 442.8L187.7 443.4L188.4 444.1L189.2 444.4L189.7 444.7L190.3 445L191 445.3L191.7 445.9L192.3 446.6L193.1 447L193.9 447.2L194.8 447.4L195.5 447.7L196.3 447.8L197 447.6L197.8 447.7L198.5 448.1L199.3 448.6L200.1 449.1L200.9 449.2L201.7 449.1L202.4 449.1L203.1 449.1L203.8 448.6L204.6 447.9L205.3 447.6L206 447.7L206.5 448.3L206.9 449.1L207.4 449.7L208.1 449.9L208.7 449.8L209.4 449.8L210.2 449.6L211 449.3L211.8 449.1L212.6 449.3L213.5 449.6L214.4 449.6L215.2 449.6L216 449.5L216.8 449.3L217.6 449L218.4 449L219.2 449.4L220 449.6L220.8 449.6L221.6 449.3L222.4 449.1L223.2 449.1L224 449.1" fill="none" stroke="#111111" stroke-width="1.7" stroke-linejoin="round"/>
<path d="M31.5 284.5L32.3 281.7L33.2 283.2L33.9 281.5L34.7 285.1L35.5 281.2L36.3 285.2L37.1 282.5L37.9 284.6L38.7 282.5L39.5 284.2L40.3 283.2L41.1 283.9L41.9 283.9L42.6 284.3L43.3 284.8L44 285.2L44.8 285.3L45.6 285.4L46.4 285.5L47.3 285.4L48 285.5L48.7 285.9L49.5 286.1L50.4 286L51.1 286.3L51.8 286.8L52.5 287.2L53.1 287.7L53.9 288L54.6 288.2L55.4 288.6L56.1 288.9L56.8 289.2L57.6 289.6L58.4 289.8L59.1 290.1L59.8 290.5L60.5 291L61.2 291.3L61.9 291.8L62.5 292.3L63.3 292.6L64.1 292.9L64.6 293.5L65.3 294.1L66 294.3L66.7 294.7L67.5 295L68.2 295.3L68.7 296L69.3 296.5L70.1 296.8L70.9 297L71.6 297.3L72.3 297.7L72.8 298.4L73.3 299.1L74 299.5L74.5 300.1L75.1 300.7L75.8 301.1L76.3 301.7L77 302.2L77.7 302.5L78.4 303L79.1 303.4L79.6 304.1L80.1 304.7L80.8 305.1L81.5 305.6L82 306.2L82.6 306.8L83.2 307.3L83.8 307.9L84.3 308.5L85 308.9L85.6 309.5L86 310.2L86.6 310.8L87.3 311.1L87.9 311.8L88.3 312.5L89 312.8L89.7 313.3L90.1 314L90.6 314.6L91.2 315.2L91.8 315.7L92.3 316.3L92.7 317.1L93.3 317.6L93.9 318.1L94.4 318.7L95.1 319.2L95.8 319.6L96.3 320.3L96.7 321L97.1 321.7L97.6 322.3L98.1 323L98.7 323.5L99.2 324.2L99.7 324.7L100.6 325L101.3 325.5L101.7 326.2L102.4 326.7L103 327.1L103.4 327.8L104 328.4L104.6 329L104.8 329.8L105.2 330.7L105.9 331.1L106.6 331.4L107.3 331.8L108 332.3L108.5 332.9L109.1 333.5L109.6 334.1L110.1 334.7L110.5 335.4L111 336.1L111.7 336.5L112.6 336.8L113.2 337.4L113.5 338.2L113.9 338.8L114.4 339.5L114.8 340.2L115.3 340.8L115.7 341.5L116.2 342.2L116.7 342.7L117.2 343.4L117.5 344.1L117.8 344.8L118.3 345.5L118.7 346.2L119 346.9L119.5 347.6L120 348.2L120.4 348.9L120.9 349.5L121.3 350.2L121.6 351L122 351.7L122.3 352.5L122.5 353.3L123 353.9L123.3 354.6L123.5 355.4L124 356.1L124.3 356.8L124.7 357.5L125.2 358.1L125.8 358.8L126.1 359.5L126.2 360.3L126.5 361.1L127 361.7L127.2 362.5L127.3 363.3L127.4 364.1L127.8 364.9L128.3 365.5L128.5 366.3L128.6 367.1L128.4 368L128.5 368.8L129.1 369.5L129.6 370.2L129.8 371L130 371.7L130.2 372.5L130.5 373.2L130.9 374L131.2 374.7L131.2 375.5L131.3 376.3L131.5 377.1L131.6 377.9L131.9 378.7L132.1 379.4L132.3 380.2L132.7 380.9L132.7 381.8L132.7 382.6L133.2 383.3L133.5 384L133.4 384.9L133.5 385.7L133.8 386.4L134.1 387.2L134.2 388L134.6 388.7L135 389.4L135.1 390.2L135.3 391L135.5 391.8L135.6 392.6L135.7 393.4L135.9 394.1L136.3 394.9L136.6 395.6L136.6 396.5L136.3 397.3L136.2 398.2L136.3 399L136.5 399.7L136.8 400.5L137.2 401.2L137.6 402L137.7 402.8L137.8 403.5L138.1 404.3L138.2 405.1L138.1 405.9L138.4 406.7L138.7 407.5L138.7 408.3L138.9 409.1L139.2 409.8L139.3 410.6L139.6 411.4L140 412.1L140 412.9L139.8 413.8L139.8 414.6L140.1 415.3L140.4 416.1L140.5 416.9L140.5 417.7L140.6 418.5L140.9 419.3L141.1 420L140.9 420.9L141.1 421.7L141.4 422.4L141.7 423.2L141.7 424L141.5 424.9L141.6 425.6L142.2 426.3L142.3 427.1L142.1 428L142 428.9L142.3 429.7L142.8 430.5L143.3 431.3L143.5 432L143.3 432.4L143.4 432.6L143.7 433.6L144 435.3L144.2 436.7L144.3 437.3L144.7 437.5L145.1 437.9L145.6 438.6L146.1 439L146.7 439.3L147.4 439.5L148.2 440L148.9 441L149.7 441.3L150.6 440.6L151.4 440L152.3 440.2L153.1 440.5L153.9 440.3L154.7 440.2L155.5 440.8L156.3 441.8L157.1 442.1L157.9 441.3L158.7 440.2L159.5 440.1L160.3 440.7L161.1 441.1L161.9 441.3L162.7 441.5L163.5 441.9L164.3 442L165.1 441.5L165.9 440.5L166.7 440.2L167.5 440.5L168.2 440.7L169 440.7L169.9 441L170.7 441.5L171.4 441.8L172.2 441.4L173 440.6L173.8 440.4L174.6 441.2L175.4 442L176.2 442.2L177 442.3L177.7 442.6L178.5 442.7L179.3 442.8L180.1 442.2L180.9 441.6L181.7 442L182.6 443.1L183.3 443.8L184.2 443.5L185 442.9L185.8 443L186.5 443L187.3 442.8L188.1 442.6L188.9 442.9L189.7 443.9L190.5 444.9L191.3 444.7L192.1 443.4L192.7 442.3L193.5 442.1L194.3 442.1L195.1 441.7L195.8 441.3L196.5 441.6L197.2 442L198.1 441.8L198.9 440.8L199.6 439.7L200.4 439.3L201.2 439.9L202.1 440.1L202.8 439.8L203.6 439.6L204.4 440.4L205.1 440.7L205.9 439.9L206.8 438.9L207.6 438.9L208.3 439.7L209.1 440.4L209.9 440.7L210.7 440.8L211.5 441.1L212.3 441.1L213.1 440.2L213.9 439.3L214.7 439.4L215.5 440.3L216.3 441.1L217.1 441.3L217.9 440.9L218.7 440.6L219.5 440.5L220.3 439.9L221 438.9L221.8 438.6L222.7 439.6L223.5 440.3L224 440.2" fill="none" stroke="#2424d8" stroke-width="1.7" stroke-linejoin="round"/>
<g stroke="#111" fill="none">
<path d="M31 158.3V451.5" stroke-width="1.6"/>
<path d="M29.5 158.3H224.3" stroke-width="1.3"/>
<path d="M224.3 158.3V451.5" stroke-width="1"/>
<path d="M30 451.5H224.8" stroke-width="1.6"/>
<path d="M26.8 181H31M28.8 203.5H31M26.8 226H31M28.8 248.5H31M26.8 271H31M28.8 293.5H31M26.8 316H31M28.8 338.5H31M26.8 361H31M28.8 383.5H31M26.8 406H31M28.8 428.5H31" stroke-width="1.3"/>
<path d="M46.5 451.5V453.5M72.7 451.5V455.3M99 451.5V453.5M125.2 451.5V455.3M151.4 451.5V453.5M177.7 451.5V455.3M203.9 451.5V453.5" stroke-width="1.2"/>
</g>
<g font-family="DejaVu Sans, sans-serif" font-weight="bold" font-size="6.8" fill="#111" stroke="#111" stroke-width="0.25" text-anchor="middle">
<text x="72.7" y="465.4">2,0</text>
<text x="125.2" y="465.4">2,5</text>
<text x="177.7" y="465.4">3,0</text>
</g>
<g font-family="Liberation Serif, serif" fill="#111">
<text x="76.6" y="483.9" font-weight="bold" font-size="16.6" stroke="#111" stroke-width="0.45" textLength="87.2" lengthAdjust="spacingAndGlyphs">Energy (eV)</text>
<text x="112.2" y="507" font-size="21" stroke="#111" stroke-width="0.2" textLength="23.6" lengthAdjust="spacingAndGlyphs">(a)</text>
<text transform="translate(13.5 387.3) rotate(-90)" font-weight="bold" font-size="18.6" stroke="#111" stroke-width="0.4" textLength="143.7" lengthAdjust="spacingAndGlyphs">Transmission (%)</text>
</g>
<g font-family="Liberation Serif, serif" font-weight="bold" font-size="12.6" fill="#111" stroke="#111" stroke-width="0.65" text-anchor="middle">
<text transform="translate(194.4 225.7) rotate(45)" dy="0.33em">600 °C</text>
<text transform="translate(174.2 241.8) rotate(47)" dy="0.33em">580 °C</text>
<text transform="translate(164 261.2) rotate(49)" dy="0.33em">550 °C</text>
<text transform="translate(147.7 280.5) rotate(47)" dy="0.33em">530 °C</text>
<text transform="translate(123.9 292.8) rotate(47)" dy="0.33em">500 °C</text>
<text transform="translate(110.5 311.6) rotate(46)" dy="0.33em">470 °C</text>
</g>
<g font-family="Liberation Serif, serif" font-weight="bold" font-size="13.2" fill="#1515c8" stroke="#1515c8" stroke-width="0.35">
<text x="49.5" y="353.6" textLength="47.8" lengthAdjust="spacingAndGlyphs">As grown</text>
<text x="47" y="372.1" font-size="13.8" textLength="57.7" lengthAdjust="spacingAndGlyphs">ZnO-ZnSe</text>
<text x="47" y="387.7" font-size="13.8" textLength="78.2" lengthAdjust="spacingAndGlyphs">core-shell Nws</text>
</g>
<path d="M47.3 373.4H106.6M47.3 389.1H124.8" stroke="#1515c8" stroke-width="1.3"/>
<g stroke="#2a2a2a" stroke-width="1.05" stroke-dasharray="12 1.4 3 1.4" fill="none">
<path d="M415 0.5L407.8 444"/>
<path d="M490.8 0.5L492 444"/>
</g>
<path d="M283.5 10.5L285.3 6.1L286.6 11.9L288.4 7L289.6 14L291.1 9L292.3 11.6L294 6.5L295.7 15.2L297.2 9.6L299 15.1L300 11L300.8 10.4L303.3 12.2L306.3 8.5L309.4 9.9L312.7 8.8L316.1 8.3L318.4 11.4L320 12L321.5 10.1L323.8 11.7L327.2 10.7L329.6 10.4L332.9 12.4L335.4 11.1L338.9 13.3L339.5 13L341 4.5L341.7 5.9L342.5 13L344.3 12.4L346.8 10L349.7 11.3L352.3 8.5L355.3 11.3L357.6 10.4L360 14L360.1 13.6L363.4 11.6L366.3 12.9L368.8 10.7L371.1 13.5L373.4 12.5L375.9 15.9L378.5 13.3L381.5 15.6L384 14L384.8 13.2L388 15.1L390.5 12.8L392.8 15.7L395.6 14.8L398.3 17L400 15.5L401.2 15.5L403.8 17.7L406.8 15.5L409.1 17.3L411.5 13.7L416.7 18L422.4 13.9L423 17L427.7 18.1L433.1 15.7L438.4 19.5L440 18L442.9 16.7L448.1 20.5L452 20L452.8 20.6L457.3 19.9L458 18.7L461.4 19L465 16.5L466.8 15.9L470 20L470.4 22.6L474 19.5L475.8 19.8L478 24.5L481.3 29.2L482 28L483.2 31L485.5 36.9L486 37L487.4 42.4L489 50L489.4 52.9L491 65L491.4 67.5L493 72L493.1 72.8L494.9 73.4L495 72.5L496.7 67.6L497 65L498.7 52.3L499.5 45L500.9 37.6L501.5 33L503 24L503 23.6L505 19L505.1 19.9L507 26.4L507.5 28.5L509 25.5L510.9 20.2L511 21L512.5 13.2L513 10.5L514.3 12.8L516.5 18.3L517 20" fill="none" stroke="#111" stroke-width="1.4" stroke-dasharray="3 0.6" stroke-linejoin="round"/>
<path d="M283.5 89L285.2 87.3L287.3 91.8L289.5 86.5L291.1 92.3L292.9 82.8L295.4 91.6L297 82.3L298.8 91.5L301.3 84.6L303.6 92.5L305.5 84.1L307.6 93.9L309.9 86.4L310 90L311.8 94L313.5 83L315.9 95.2L318.2 88.1L321 89.5L324.2 88.2L327.1 91.6L330.6 91.6L333 94.1L335.8 91.7L338.6 91.2L339.5 90.5L341 83L341.2 85.4L343 91L344.1 89.7L346.6 91.7L349.8 89.9L353.1 92.1L355.4 91.1L358.1 89.2L360.6 90.1L362.8 87.8L366.2 90.2L368.9 88.5L370 90.5L371.2 90.4L374.2 89.4L376.6 91.6L380 90.8L382.4 93.9L384.5 91.5L386.9 93.2L389.5 91.5L392.3 91.1L395.6 92.5L398.7 90.9L400 92L401.3 88.5L403.4 91.5L405.7 91L411.2 98.7L412 96.5L415.5 95.4L420.4 102.2L423 101L423.8 99.5L427.1 105L432.3 100.4L436.9 103.9L440 101L440.9 98.2L443 97.5L444.5 108L444.9 108L447 101L448.4 102.2L452.1 98.6L455.4 103.6L460.6 98.3L464.9 97.5L468 100L468.5 97.3L472.7 99L473.4 100.1L475.1 104.3L476.6 109.5L477.4 111.6L478.7 112.3L481.1 111.7L482.7 112.7L484.3 112.7L485 115.5L486.7 124.1L488.3 131L489.8 139.3L490 139.3L491.6 134.4L493.8 125L494.7 120.8L495.8 114.6L498.1 98.2L499.9 87.1L500.5 81.5L501.7 84.5L503.4 88.9L505 90.8L505.9 90.9L508.3 88.8L508.5 86L510.2 88.9L512.1 90.9L513 88.5L513.9 86.9L516.2 79.7L517 77" fill="none" stroke="#111" stroke-width="1.4" stroke-dasharray="3 0.6" stroke-linejoin="round"/>
<path d="M283.5 141L284.8 138.3L286.6 143.2L287.9 138.6L289.2 145L290.6 138.1L291.9 144.9L293.5 140L294.7 145.5L296.5 139.5L298.3 144.3L299.4 138.4L300 141.5L300.9 144L302.1 140.3L304.6 142.7L307.3 140.7L310 142.4L312.8 140.6L316.2 142.6L318.6 141.1L321 142.3L324 140L327.5 142.7L330.8 142.1L334.2 144.2L336.4 141.4L339.5 143.5L339.8 141.8L341.2 135.4L342.8 140.5L343 143.5L346.1 144.2L348.8 142.7L351.2 143.5L354.4 139.7L357.4 138.4L360.6 138.1L363 141.6L365.3 140.2L367.8 140L368.5 143.3L370.6 141.6L374 144.2L376.3 141.4L379.2 143.6L381.6 144.6L381.9 142.7L384.5 144.4L386.8 142.7L390 145.6L393.4 145.6L396.5 143.8L399.4 145.8L400 143L402.5 143.5L405.4 146.5L410.3 142.7L416.1 148L420.4 141.8L424.5 147.8L430.4 145.6L434.6 148L436.3 152.7L441 145.9L446.5 151.2L451.9 144.8L457.8 150L461.6 145.9L467.3 150.6L472.1 145L474 148L476.8 154.4L479 156.9L479.7 157.3L481.1 162L483 165.3L484.8 170.3L485.5 168.9L487.3 177.1L489.6 185.2L491.2 190.3L491.2 190.8L493.1 186.5L494.7 182.7L495.3 178.4L497.7 169.5L499.3 162L500.2 160.1L501.9 154.3L504 148L504.3 149.8L506.5 153.4L507.4 155L508.1 153.7L509.8 147.1L511.5 141.5L512 140L513.1 141.2L515.2 142.9L517.1 146.1L517.5 148" fill="none" stroke="#111" stroke-width="1.4" stroke-dasharray="3 0.6" stroke-linejoin="round"/>
<path d="M283.5 214.5L285.3 212.5L287 218.3L288.8 210.9L290.1 216.5L291.3 212.5L293.1 217.2L294.7 218.7L295.8 217.5L297.6 213.7L299.5 215.6L300.8 211.9L302.6 219.3L303.8 210.8L305.2 218.3L306.9 213.7L308.4 220.1L309.9 210.5L310 215L311.1 218.5L312.8 214.1L315.6 216.5L318.1 214.8L321.3 216.8L324.7 218.2L327.6 216.3L330.7 217.9L334.2 215.9L336.4 217.8L339 215.5L339.3 215.1L340.5 211L342 216L342.8 217.1L345 213.2L347.4 214.6L350.3 212.9L353.4 215.5L356.3 214.7L359.2 217.7L361.3 216.2L364.5 217.2L367 214.3L369.2 215.3L372.4 213L372.7 214.9L375.7 211.6L378.4 212.3L381.5 210.6L384.3 213L386.6 212.3L389.5 214.7L392.7 213.7L395.8 217.4L398.7 216.4L400 217L402.1 220.4L405.5 217.2L410.7 222L414.9 217.8L418.7 222.2L423 221.6L423.2 218.8L428 223.1L431.6 219.9L436.1 223.1L440 221.5L440.4 218.3L443.7 222.5L447.9 219.6L452.1 224L457.5 219.2L460.9 223.6L466.3 219.3L469 222.5L471.6 220.6L472 220L473.7 224.4L475 227.8L475.4 229.3L477.7 229L479.3 229.4L481.1 227.9L483 228.5L483.3 229.6L485.2 234.2L487 241.8L487.2 241.5L489 246.5L489 244.4L490.5 242.9L492 240.2L492.4 237.7L494.7 233.6L495 232.4L497.1 215.2L498 209L498.6 209.7L500.7 211.6L502 215.3L502.5 214.4L504.4 213.7L506.9 211.7L507 213L509.2 213.1L511.3 212.2L512 214.5L513.3 210.9L515.7 205.5L516 207.5L517.2 202.8" fill="none" stroke="#111" stroke-width="1.4" stroke-dasharray="3 0.6" stroke-linejoin="round"/>
<path d="M283.5 278L285.2 275.4L286.6 287.5L288.3 273.1L290.1 289.4L291.7 273L293.2 289.3L294.9 274.4L296.6 287.1L298 270.8L299.6 282.6L301.3 278.8L302.5 286L304.1 274.6L305.7 270.1L307.2 288.1L308.7 272.1L310 286.5L310 281.6L311.6 276L313.4 279.6L315.4 282.7L317.6 278.6L320.2 282.7L322.5 280L324.6 283.9L327 279.4L328.6 284L330.5 283.7L333.1 279.5L334.9 284.7L336.6 279.4L338 282L339.2 277.5L340 272.3L341.7 284.3L342 287.3L345.2 286.8L348.4 282.7L351.7 285.5L354 285L354.3 282.6L357.5 285.2L359.8 282.9L363.1 286.3L366 284L366.2 283.3L367.8 277L368.6 285.6L369.5 290.8L370.9 283.6L372.4 278L373.3 285.9L374 290L376.5 287.8L379.5 290.9L382 288.1L384 287.3L385 291.3L388.1 287.7L391.2 290.3L394.7 290.8L395.4 289.2L397.9 291.2L399.2 293L400.6 298.9L403.7 298L407 304.6L407.2 302L410.3 302.5L412.7 296L414.9 294.3L419.5 300.8L422.9 297.5L423 298.5L427.8 304.4L431.5 299.3L433.8 302L435.4 303L439.6 294.9L443.5 295L444.6 298.3L449.4 292.9L452.6 296.5L457 291L457.4 290.1L460.8 293.3L464.6 286.3L465.4 284.5L468.5 279.6L469.8 288.8L471.3 294L471.4 294.5L473 289L475.2 279.6L475.4 279.8L476.9 288.1L478 293L478.6 293.2L480.8 296.6L481 294.1L483.2 288.3L485.3 281.1L485.5 281.6L487.3 288.7L489.3 298.7L491.2 307L491.3 305.9L492.9 295.8L494.6 286.8L496.4 275L498 267.7L498.4 267.9L500.3 272.6L501.6 278L502.5 276.2L504.8 270.9L506.2 270L507.1 270.8L509.1 271.7L510.9 274.7L512.5 275.2L513.2 274.6L514.3 271L516.6 257.3" fill="none" stroke="#111" stroke-width="1.4" stroke-dasharray="3 0.6" stroke-linejoin="round"/>
<path d="M283.5 338L285.1 331.9L286.8 343.6L288.1 334.7L289.2 348.1L290.7 332.2L291.9 341.7L293.5 332.5L294.9 340.9L296.3 334.7L298.1 344L299.7 337.5L300 339.6L301.4 344.1L302.9 338.5L305.2 343.4L306.7 337.4L309 343.3L310.8 338.8L312.4 344.3L314.3 340.1L316.7 344.1L318.4 339.2L320 342L320.7 344.8L322.5 339.7L324.9 343.9L327 340.6L330.2 342.7L332.8 340.4L335.8 342.5L338.2 341.5L341.4 339.1L343.9 341.1L346.9 339.6L349.1 342.9L351.6 340.5L354.2 343.1L356.5 340.9L359 343.6L361.4 341L363.5 342.7L365.5 342L366.1 340.8L368.9 345.1L371.6 346.2L372.4 347.7L374.9 351L377.1 351.6L380.1 350.1L382.7 352.6L384 353.5L384.8 350.4L388 354.2L390.7 355.6L392.7 360.5L394.2 364.1L397.4 367.9L399 369.4L400.7 376.4L402.7 381.7L404 383.4L404.6 383.3L406.9 373.4L407.9 368L408.9 364L410.4 353L411.2 350.1L413.6 338.9L414.2 335.2L415.5 334.1L419.9 338L423 336.2L424.6 333.8L429.6 339.1L433.5 332.8L436.9 337.8L440 334.9L440.4 332.5L442.5 332.9L444.2 330.3L445 332.4L446.6 333.2L448 336.5L448.3 333.1L450.5 331L451 331.6L453.2 332.1L455 336.5L455.3 335L457.2 332.1L458 330.7L459.3 331.2L461 333.2L461.2 334.7L463 337L463.1 337.9L465 341.5L465.1 343.2L467 333.1L468 328.2L469.2 334.8L470.5 338L471.2 336.6L473 328.2L473.5 331.6L476.1 333.7L477 333.2L477.8 334.7L479.9 330.6L480 330.7L482.3 334L484 336.5L484.4 334L486.8 329.9L488 327.4L488.7 326L490 325.8L491.4 339L492 344L494 339.8L494.1 338.1L496.7 332.5L497 331.6L499 331.7L500 333.2L501.5 333.4L503.9 331.7L505 331.6L506.5 333.4L508.7 333.2L510 333.2L510.7 334L513 331.3L515.1 327.7L517 328L517.5 328.2" fill="none" stroke="#111" stroke-width="1.4" stroke-dasharray="3 0.6" stroke-linejoin="round"/>
<path d="M283.5 390.4L285.1 386.9L286.5 393L287.7 386.6L289.1 393.9L290.7 387.1L291.8 394.4L293.6 389.4L295.4 393.7L296.5 388.6L298.2 394.2L299.5 389.3L300 391.6L301.2 394.1L303.5 391.1L306.5 392.4L310 388.8L313.5 391.9L316.5 389.4L318.8 391.4L321.5 391.2L324 389.4L327.4 393.9L329.9 392L332.8 394.7L335.5 391.7L337.8 393.2L340 393L340.4 391.5L343.6 394L346.3 392.5L349.3 395.2L352.2 393.4L354.4 393L357.6 395L360.6 393.3L363.8 395.3L366.1 394.7L369.6 392.4L372.9 395.2L376.3 393.5L379.3 395L379.7 397.2L382.7 397.3L385.3 401.7L387.5 400.3L390.6 402L392.7 399.8L393.6 400.8L396.6 406.4L398.7 407.2L399 407.4L401.1 418.7L402.8 426.4L403 427L404.6 434.4L405.8 439.1L407.1 432L409.1 421.4L409.3 421L411.3 406.3L411.7 403.6L413.6 399.7L415.5 393.5L415.9 391.5L420.2 394.1L420.5 392.2L423.9 390.2L427.6 394.3L431.9 389.4L435.2 393.3L438.6 389L442 391.9L445.9 389.3L450.1 392.1L454.1 389.8L458.7 393L463.6 389.1L466.8 392.6L470.1 392.2L474.6 387.7L478.3 391.2L482.6 387.6L485.8 390.3L489 390L489.1 387.5L491 389.3L493 396L493.8 396L496 391L497.7 388.4L500.9 391.4L505.8 388.4L509.2 390.1L512.4 385.9L516.5 388.2L517 388" fill="none" stroke="#111" stroke-width="1.4" stroke-dasharray="3 0.6" stroke-linejoin="round"/>
<g stroke="#111" fill="none">
<path d="M283.3 0L281 444.3" stroke-width="1.6"/>
<path d="M281 0.6H518.5" stroke-width="1.3"/>
<path d="M518.5 0V120" stroke="#555" stroke-width="1"/>
<path d="M518.4 120V143" stroke-width="1.8"/>
<path d="M518 143V185" stroke="#666" stroke-width="1"/>
<path d="M517.4 185V444.3" stroke-width="1.3"/>
<path d="M280.3 444.4H518.5" stroke-width="1.5"/>
<path d="M277.7 12.2H283.2M277.6 35.6H283.1M277.5 58.7H283M277.4 81.8H282.9M277.3 102.7H282.8M277.2 123.4H282.7M277.1 141H282.6M277 160.4H282.5M276.9 180H282.4M276.8 197.5H282.3M276.7 214H282.2M276.6 236.3H282.1M276.5 254.4H282M276.4 275.3H281.9M276.3 296.8H281.8M276.2 317.3H281.7M276.1 336.7H281.6M276 356.3H281.5M275.8 376.7H281.3M275.7 396.2H281.2M275.6 415.6H281.1M275.5 435H281" stroke-width="1.2"/>
<path d="M280.2 23.7H283.2M280.1 47.5H283.1M279.9 70.4H282.9M279.9 75.9H282.9M279.9 86.8H282.9M279.8 89.6H282.8M279.8 95.4H282.8M279.7 109.4H282.7M279.7 116.6H282.7M279.6 130.2H282.6M279.6 137H282.6M279.5 146.8H282.5M279.5 153.6H282.5M279.4 167.3H282.4M279.4 174H282.4M279.3 185.8H282.3M279.3 191.6H282.3M279.3 200.6H282.3M279.2 205.3H282.2M279.2 209.4H282.2M279.2 218.7H282.2M279.1 223.4H282.1M279.1 227.5H282.1M279.1 231.6H282.1M279.1 240.9H282.1M279 245H282M279 249.7H282M278.6 322.1H281.6M278.6 327H281.6M278.6 331.9H281.6M278.5 341.6H281.5M278.5 346.5H281.5M278.5 351.1H281.5M278.4 361.4H281.4M278.4 366.5H281.4M278.4 371.6H281.4M278.3 381.8H281.3M278.3 387H281.3M278.3 392H281.3M278.2 406.4H281.2M278.1 425.8H281.1" stroke-width="1.1"/>
<path d="M281 444.3V449.5M309.7 444.3V449.5M338.4 444.3V449.5M367.1 444.3V449.5M395.8 444.3V449.5M424.5 444.3V449.5M453.2 444.3V449.5M481.9 444.3V449.5M510.6 444.3V449.5" stroke-width="1.3"/>
<path d="M295.3 444.3V447.3M324.1 444.3V447.3M352.8 444.3V447.3M381.4 444.3V447.3M410.1 444.3V447.3M438.9 444.3V447.3M467.6 444.3V447.3M496.2 444.3V447.3" stroke-width="1.1"/>
</g>
<g font-family="DejaVu Sans, sans-serif" font-weight="bold" font-size="7.3" fill="#111" stroke="#111" stroke-width="0.25" text-anchor="middle">
<text x="281" y="459.7">1,8</text>
<text x="309.7" y="459.7">2,0</text>
<text x="338.4" y="459.7">2,2</text>
<text x="367.1" y="459.7">2,4</text>
<text x="395.8" y="459.7">2,6</text>
<text x="424.5" y="459.7">2,8</text>
<text x="453.2" y="459.7">3,0</text>
<text x="481.9" y="459.7">3,2</text>
<text x="510.6" y="459.7">3,4</text>
</g>
<g font-family="Liberation Serif, serif" font-weight="bold" font-size="15.5" fill="#d01515" stroke="#d01515" stroke-width="0.4">
<text x="299.8" y="41.6" textLength="23" lengthAdjust="spacingAndGlyphs">600</text>
<text x="329.7" y="41.6" textLength="12.6" lengthAdjust="spacingAndGlyphs">C</text>
<text x="326.1" y="33.3" font-size="9.6" stroke-width="0.3">°</text>
<text x="297.5" y="111.2" textLength="23" lengthAdjust="spacingAndGlyphs">580</text>
<text x="327.1" y="111.2" textLength="12.6" lengthAdjust="spacingAndGlyphs">C</text>
<text x="323.9" y="102.8" font-size="9.6" stroke-width="0.3">°</text>
<text x="299.8" y="163.1" textLength="23" lengthAdjust="spacingAndGlyphs">550</text>
<text x="329.4" y="163.1" textLength="12.6" lengthAdjust="spacingAndGlyphs">C</text>
<text x="326.6" y="154.2" font-size="9.6" stroke-width="0.3">°</text>
<text x="301.9" y="243.5" textLength="23" lengthAdjust="spacingAndGlyphs">530</text>
<text x="330.8" y="243.5" textLength="12.6" lengthAdjust="spacingAndGlyphs">C</text>
<text x="327.8" y="234.6" font-size="9.6" stroke-width="0.3">°</text>
<text x="297.5" y="303.5" textLength="23" lengthAdjust="spacingAndGlyphs">500</text>
<text x="324.1" y="303.5" textLength="12.6" lengthAdjust="spacingAndGlyphs">C</text>
<text x="320.4" y="295.1" font-size="9.6" stroke-width="0.3">°</text>
<text x="300.7" y="370.3" textLength="23" lengthAdjust="spacingAndGlyphs">470</text>
<text x="330.3" y="370.3" textLength="12.6" lengthAdjust="spacingAndGlyphs">C</text>
<text x="327.1" y="362" font-size="9.6" stroke-width="0.3">°</text>
</g>
<g font-family="Liberation Sans, sans-serif" font-weight="bold" font-size="12.5" fill="#1414c8" stroke="#1414c8" stroke-width="0.5">
<text x="288" y="409.3" textLength="66.3" lengthAdjust="spacing">As grown</text>
<text x="287.9" y="423.8" textLength="69.2" lengthAdjust="spacing">ZnO-ZnSe</text>
<text x="287.9" y="443.2" textLength="101.2" lengthAdjust="spacing">core-shell Nws</text>
</g>
<path d="M288.3 425.4H356.8M288.3 443.4H392.4" stroke="#1414c8" stroke-width="1.2"/>
<g font-family="Liberation Serif, serif" fill="#111">
<text x="365.5" y="473.8" font-weight="bold" font-size="14.8" stroke="#111" stroke-width="0.4" textLength="73.3" lengthAdjust="spacingAndGlyphs">Energy (eV)</text>
<text x="360.2" y="504.6" font-size="21" stroke="#111" stroke-width="0.2" textLength="24.6" lengthAdjust="spacingAndGlyphs">(b)</text>
<text transform="translate(263.5 329.2) rotate(-90)" font-weight="bold" font-size="21" stroke="#111" stroke-width="0.4" textLength="166.9" lengthAdjust="spacingAndGlyphs">Derivative (%/eV)</text>
</g>
</svg></body></html>
